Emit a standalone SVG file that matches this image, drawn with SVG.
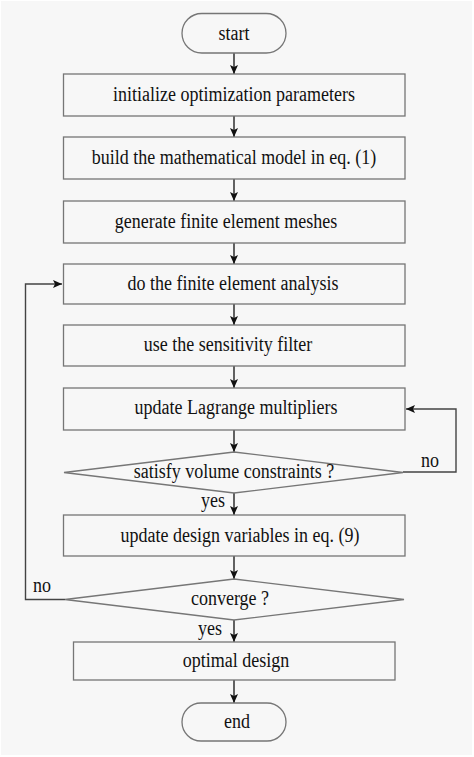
<svg xmlns="http://www.w3.org/2000/svg" width="474" height="757" viewBox="0 0 474 757">
<defs>
<marker id="ah" markerWidth="10" markerHeight="8" refX="9" refY="4" orient="auto" markerUnits="userSpaceOnUse">
<path d="M0,0 L9,4 L0,8 L2,4 z" fill="#111"/>
</marker>
<style>
.box{fill:#f7f7f7;stroke:#767676;stroke-width:1.3}
.con{fill:none;stroke:#222;stroke-width:1.4}
.loop{fill:none;stroke:#444;stroke-width:1.4}
.t{font-family:'Liberation Serif','Times New Roman','DejaVu Serif',serif;font-size:18px;fill:#111}
.c{text-anchor:middle}
</style>
</defs>
<rect width="474" height="757" fill="#ffffff"/>
<rect x="1" y="1" width="471" height="754" fill="#f7f7f7"/>

<g id="connectors">
<line class="con" x1="234" y1="53" x2="234" y2="74" marker-end="url(#ah)"/>
<line class="con" x1="234" y1="116" x2="234" y2="137" marker-end="url(#ah)"/>
<line class="con" x1="234" y1="179" x2="234" y2="201" marker-end="url(#ah)"/>
<line class="con" x1="234" y1="243" x2="234" y2="264" marker-end="url(#ah)"/>
<line class="con" x1="234" y1="304" x2="234" y2="325" marker-end="url(#ah)"/>
<line class="con" x1="234" y1="366" x2="234" y2="388" marker-end="url(#ah)"/>
<line class="con" x1="234" y1="430" x2="234" y2="452" marker-end="url(#ah)"/>
<line class="con" x1="234" y1="493" x2="234" y2="515" marker-end="url(#ah)"/>
<line class="con" x1="234" y1="556" x2="234" y2="579" marker-end="url(#ah)"/>
<line class="con" x1="234" y1="620" x2="234" y2="642" marker-end="url(#ah)"/>
<line class="con" x1="234" y1="680" x2="234" y2="703" marker-end="url(#ah)"/>
<polyline class="loop" points="403,472 456,472 456,409 406,409" marker-end="url(#ah)"/>
<polyline class="loop" points="65,599.5 25.5,599.5 25.5,284 62,284" marker-end="url(#ah)"/>
<text class="t" font-family="Liberation Serif, serif" transform="translate(421,467) scale(1,1.2)">no</text>
<text class="t" font-family="Liberation Serif, serif" transform="translate(201,507) scale(1,1.2)">yes</text>
<text class="t" font-family="Liberation Serif, serif" transform="translate(33,592) scale(1,1.2)">no</text>
<text class="t" font-family="Liberation Serif, serif" transform="translate(198,635) scale(1,1.2)">yes</text>
</g>

<g id="start">
<rect class="box" x="182" y="13.5" width="104" height="39.5" rx="19.75"/>
<text class="t c" font-family="Liberation Serif, serif" transform="translate(234,39.5) scale(1,1.2)">start</text>
</g>
<g id="init">
<rect class="box" x="63.5" y="74" width="341.5" height="42"/>
<text class="t c" font-family="Liberation Serif, serif" transform="translate(234,101) scale(1,1.2)">initialize optimization parameters</text>
</g>
<g id="model">
<rect class="box" x="63.5" y="137" width="341.5" height="42"/>
<text class="t c" font-family="Liberation Serif, serif" transform="translate(234,164) scale(1,1.2)">build the mathematical model in eq. (1)</text>
</g>
<g id="mesh">
<rect class="box" x="63.5" y="201" width="341.5" height="42"/>
<text class="t c" font-family="Liberation Serif, serif" transform="translate(226,228) scale(1,1.2)">generate finite element meshes</text>
</g>
<g id="fea">
<rect class="box" x="63.5" y="264" width="341.5" height="40"/>
<text class="t c" font-family="Liberation Serif, serif" transform="translate(233,289.5) scale(1,1.2)">do the finite element analysis</text>
</g>
<g id="filter">
<rect class="box" x="63.5" y="325" width="341.5" height="41"/>
<text class="t c" font-family="Liberation Serif, serif" transform="translate(228,351) scale(1,1.2)">use the sensitivity filter</text>
</g>
<g id="lagrange">
<rect class="box" x="63.5" y="388" width="341.5" height="42"/>
<text class="t c" font-family="Liberation Serif, serif" transform="translate(236,414) scale(1,1.2)">update Lagrange multipliers</text>
</g>
<g id="volume">
<polygon class="box" points="234,452 403,472.5 234,493 64,472.5"/>
<text class="t c" font-family="Liberation Serif, serif" transform="translate(234,478) scale(1,1.2)">satisfy volume constraints ?</text>
</g>
<g id="design">
<rect class="box" x="63.5" y="515" width="341.5" height="41"/>
<text class="t c" font-family="Liberation Serif, serif" transform="translate(240,542) scale(1,1.2)">update design variables in eq. (9)</text>
</g>
<g id="converge">
<polygon class="box" points="234,579 404,599.5 234,620 65,599.5"/>
<text class="t c" font-family="Liberation Serif, serif" transform="translate(230,605) scale(1,1.2)">converge ?</text>
</g>
<g id="optimal">
<rect class="box" x="73.5" y="642" width="321.5" height="38"/>
<text class="t c" font-family="Liberation Serif, serif" transform="translate(236,667) scale(1,1.2)">optimal design</text>
</g>
<g id="end">
<rect class="box" x="182" y="703" width="104" height="38" rx="19"/>
<text class="t c" font-family="Liberation Serif, serif" transform="translate(237,727.5) scale(1,1.2)">end</text>
</g>
</svg>
